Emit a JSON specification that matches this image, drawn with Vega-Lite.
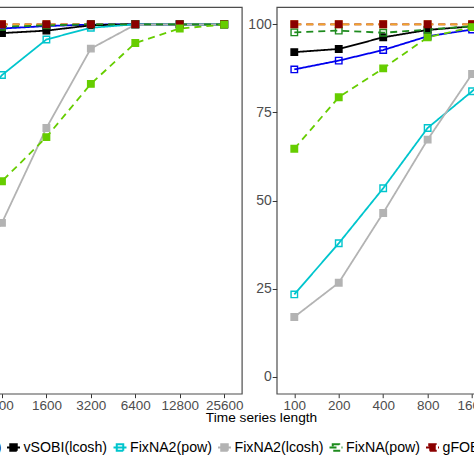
{
  "$schema": "https://vega.github.io/schema/vega-lite/v6.json",
  "padding": {"left": -159, "top": 6, "right": -193, "bottom": 20},
  "autosize": {"type": "pad"},
  "background": "white",
  "bounds": "flush",
  "config": {
    "font": "Liberation Sans",
    "view": {"stroke": "#4D4D4D", "strokeWidth": 1.2},
    "axis": {"grid": false, "domain": false, "tickColor": "#333333", "tickSize": 4, "labelColor": "#4D4D4D", "labelFontSize": 13.5, "labelFont": "Liberation Sans", "titleFont": "Liberation Sans", "titleFontWeight": "normal", "titleColor": "#000000", "titleFontSize": 13.7}
  },
  "data": {"values": [
    {"panel":"A","series":"gJADE","n":100,"value":100},{"panel":"A","series":"gJADE","n":200,"value":100},{"panel":"A","series":"gJADE","n":400,"value":100},{"panel":"A","series":"gJADE","n":800,"value":100},{"panel":"A","series":"gJADE","n":1600,"value":100},{"panel":"A","series":"gJADE","n":3200,"value":100},{"panel":"A","series":"gJADE","n":6400,"value":100},{"panel":"A","series":"gJADE","n":12800,"value":100},{"panel":"A","series":"gJADE","n":25600,"value":100},
    {"panel":"A","series":"vSOBI(pow)","n":100,"value":80},{"panel":"A","series":"vSOBI(pow)","n":200,"value":88},{"panel":"A","series":"vSOBI(pow)","n":400,"value":95},{"panel":"A","series":"vSOBI(pow)","n":800,"value":98.8},{"panel":"A","series":"vSOBI(pow)","n":1600,"value":99.5},{"panel":"A","series":"vSOBI(pow)","n":3200,"value":99.9},{"panel":"A","series":"vSOBI(pow)","n":6400,"value":100},{"panel":"A","series":"vSOBI(pow)","n":12800,"value":100},{"panel":"A","series":"vSOBI(pow)","n":25600,"value":100},
    {"panel":"A","series":"vSOBI(lcosh)","n":100,"value":85},{"panel":"A","series":"vSOBI(lcosh)","n":200,"value":91},{"panel":"A","series":"vSOBI(lcosh)","n":400,"value":95.5},{"panel":"A","series":"vSOBI(lcosh)","n":800,"value":97.5},{"panel":"A","series":"vSOBI(lcosh)","n":1600,"value":98.2},{"panel":"A","series":"vSOBI(lcosh)","n":3200,"value":99.7},{"panel":"A","series":"vSOBI(lcosh)","n":6400,"value":100},{"panel":"A","series":"vSOBI(lcosh)","n":12800,"value":100},{"panel":"A","series":"vSOBI(lcosh)","n":25600,"value":100},
    {"panel":"A","series":"FixNA2(pow)","n":100,"value":30},{"panel":"A","series":"FixNA2(pow)","n":200,"value":50},{"panel":"A","series":"FixNA2(pow)","n":400,"value":70},{"panel":"A","series":"FixNA2(pow)","n":800,"value":85.6},{"panel":"A","series":"FixNA2(pow)","n":1600,"value":95.7},{"panel":"A","series":"FixNA2(pow)","n":3200,"value":99},{"panel":"A","series":"FixNA2(pow)","n":6400,"value":100},{"panel":"A","series":"FixNA2(pow)","n":12800,"value":100},{"panel":"A","series":"FixNA2(pow)","n":25600,"value":100},
    {"panel":"A","series":"FixNA2(lcosh)","n":100,"value":5},{"panel":"A","series":"FixNA2(lcosh)","n":200,"value":12},{"panel":"A","series":"FixNA2(lcosh)","n":400,"value":25},{"panel":"A","series":"FixNA2(lcosh)","n":800,"value":43.7},{"panel":"A","series":"FixNA2(lcosh)","n":1600,"value":70.6},{"panel":"A","series":"FixNA2(lcosh)","n":3200,"value":93.1},{"panel":"A","series":"FixNA2(lcosh)","n":6400,"value":99.9},{"panel":"A","series":"FixNA2(lcosh)","n":12800,"value":100},{"panel":"A","series":"FixNA2(lcosh)","n":25600,"value":100},
    {"panel":"A","series":"FixNA(pow)","n":100,"value":96},{"panel":"A","series":"FixNA(pow)","n":200,"value":97.5},{"panel":"A","series":"FixNA(pow)","n":400,"value":98.5},{"panel":"A","series":"FixNA(pow)","n":800,"value":99.3},{"panel":"A","series":"FixNA(pow)","n":1600,"value":99.7},{"panel":"A","series":"FixNA(pow)","n":3200,"value":100},{"panel":"A","series":"FixNA(pow)","n":6400,"value":100},{"panel":"A","series":"FixNA(pow)","n":12800,"value":100},{"panel":"A","series":"FixNA(pow)","n":25600,"value":100},
    {"panel":"A","series":"gFOBI","n":100,"value":100},{"panel":"A","series":"gFOBI","n":200,"value":100},{"panel":"A","series":"gFOBI","n":400,"value":100},{"panel":"A","series":"gFOBI","n":800,"value":100},{"panel":"A","series":"gFOBI","n":1600,"value":100},{"panel":"A","series":"gFOBI","n":3200,"value":100},{"panel":"A","series":"gFOBI","n":6400,"value":100},{"panel":"A","series":"gFOBI","n":12800,"value":100},{"panel":"A","series":"gFOBI","n":25600,"value":100},
    {"panel":"A","series":"FixNA(lcosh)","n":100,"value":22},{"panel":"A","series":"FixNA(lcosh)","n":200,"value":33},{"panel":"A","series":"FixNA(lcosh)","n":400,"value":44},{"panel":"A","series":"FixNA(lcosh)","n":800,"value":55.5},{"panel":"A","series":"FixNA(lcosh)","n":1600,"value":68},{"panel":"A","series":"FixNA(lcosh)","n":3200,"value":83.1},{"panel":"A","series":"FixNA(lcosh)","n":6400,"value":94.7},{"panel":"A","series":"FixNA(lcosh)","n":12800,"value":98.8},{"panel":"A","series":"FixNA(lcosh)","n":25600,"value":99.9},
    {"panel":"B","series":"gJADE","n":100,"value":100},{"panel":"B","series":"gJADE","n":200,"value":100},{"panel":"B","series":"gJADE","n":400,"value":100},{"panel":"B","series":"gJADE","n":800,"value":100},{"panel":"B","series":"gJADE","n":1600,"value":100},{"panel":"B","series":"gJADE","n":3200,"value":100},{"panel":"B","series":"gJADE","n":6400,"value":100},{"panel":"B","series":"gJADE","n":12800,"value":100},{"panel":"B","series":"gJADE","n":25600,"value":100},
    {"panel":"B","series":"vSOBI(pow)","n":100,"value":87.2},{"panel":"B","series":"vSOBI(pow)","n":200,"value":89.7},{"panel":"B","series":"vSOBI(pow)","n":400,"value":92.7},{"panel":"B","series":"vSOBI(pow)","n":800,"value":96.6},{"panel":"B","series":"vSOBI(pow)","n":1600,"value":98.5},{"panel":"B","series":"vSOBI(pow)","n":3200,"value":99.5},{"panel":"B","series":"vSOBI(pow)","n":6400,"value":99.8},{"panel":"B","series":"vSOBI(pow)","n":12800,"value":100},{"panel":"B","series":"vSOBI(pow)","n":25600,"value":100},
    {"panel":"B","series":"vSOBI(lcosh)","n":100,"value":92.1},{"panel":"B","series":"vSOBI(lcosh)","n":200,"value":93},{"panel":"B","series":"vSOBI(lcosh)","n":400,"value":96.3},{"panel":"B","series":"vSOBI(lcosh)","n":800,"value":98.4},{"panel":"B","series":"vSOBI(lcosh)","n":1600,"value":99.4},{"panel":"B","series":"vSOBI(lcosh)","n":3200,"value":99.8},{"panel":"B","series":"vSOBI(lcosh)","n":6400,"value":100},{"panel":"B","series":"vSOBI(lcosh)","n":12800,"value":100},{"panel":"B","series":"vSOBI(lcosh)","n":25600,"value":100},
    {"panel":"B","series":"FixNA2(pow)","n":100,"value":23.4},{"panel":"B","series":"FixNA2(pow)","n":200,"value":37.9},{"panel":"B","series":"FixNA2(pow)","n":400,"value":53.5},{"panel":"B","series":"FixNA2(pow)","n":800,"value":70.6},{"panel":"B","series":"FixNA2(pow)","n":1600,"value":81},{"panel":"B","series":"FixNA2(pow)","n":3200,"value":92},{"panel":"B","series":"FixNA2(pow)","n":6400,"value":97},{"panel":"B","series":"FixNA2(pow)","n":12800,"value":99},{"panel":"B","series":"FixNA2(pow)","n":25600,"value":100},
    {"panel":"B","series":"FixNA2(lcosh)","n":100,"value":17},{"panel":"B","series":"FixNA2(lcosh)","n":200,"value":26.7},{"panel":"B","series":"FixNA2(lcosh)","n":400,"value":46.5},{"panel":"B","series":"FixNA2(lcosh)","n":800,"value":67.3},{"panel":"B","series":"FixNA2(lcosh)","n":1600,"value":85.9},{"panel":"B","series":"FixNA2(lcosh)","n":3200,"value":96},{"panel":"B","series":"FixNA2(lcosh)","n":6400,"value":99},{"panel":"B","series":"FixNA2(lcosh)","n":12800,"value":100},{"panel":"B","series":"FixNA2(lcosh)","n":25600,"value":100},
    {"panel":"B","series":"FixNA(pow)","n":100,"value":97.7},{"panel":"B","series":"FixNA(pow)","n":200,"value":98.2},{"panel":"B","series":"FixNA(pow)","n":400,"value":97.6},{"panel":"B","series":"FixNA(pow)","n":800,"value":98.5},{"panel":"B","series":"FixNA(pow)","n":1600,"value":99.5},{"panel":"B","series":"FixNA(pow)","n":3200,"value":99.8},{"panel":"B","series":"FixNA(pow)","n":6400,"value":100},{"panel":"B","series":"FixNA(pow)","n":12800,"value":100},{"panel":"B","series":"FixNA(pow)","n":25600,"value":100},
    {"panel":"B","series":"gFOBI","n":100,"value":100},{"panel":"B","series":"gFOBI","n":200,"value":100},{"panel":"B","series":"gFOBI","n":400,"value":100},{"panel":"B","series":"gFOBI","n":800,"value":100},{"panel":"B","series":"gFOBI","n":1600,"value":100},{"panel":"B","series":"gFOBI","n":3200,"value":100},{"panel":"B","series":"gFOBI","n":6400,"value":100},{"panel":"B","series":"gFOBI","n":12800,"value":100},{"panel":"B","series":"gFOBI","n":25600,"value":100},
    {"panel":"B","series":"FixNA(lcosh)","n":100,"value":64.7},{"panel":"B","series":"FixNA(lcosh)","n":200,"value":79.3},{"panel":"B","series":"FixNA(lcosh)","n":400,"value":87.5},{"panel":"B","series":"FixNA(lcosh)","n":800,"value":96.3},{"panel":"B","series":"FixNA(lcosh)","n":1600,"value":99.2},{"panel":"B","series":"FixNA(lcosh)","n":3200,"value":99.8},{"panel":"B","series":"FixNA(lcosh)","n":6400,"value":100},{"panel":"B","series":"FixNA(lcosh)","n":12800,"value":100},{"panel":"B","series":"FixNA(lcosh)","n":25600,"value":100}
  ]},
  "spacing": 34.7,
  "hconcat": [
    {
      "width": 390.8, "height": 386.7,
      "transform": [{"filter": "datum.panel == 'A'"}],
      "encoding": {
        "x": {"field": "n", "type": "quantitative", "scale": {"type": "log", "base": 2, "domain": [76, 33690], "nice": false}, "axis": {"values": [100,200,400,800,1600,3200,6400,12800,25600], "format": "d", "title": null, "labelPadding": 0.5, "labelFlush": false, "labelOverlap": false}},
        "y": {"field": "value", "type": "quantitative", "scale": {"domain": [-4.75, 104.9], "nice": false, "zero": false}, "axis": null}
      },
      "layer": [
        {"transform": [{"filter": "datum.series == 'gFOBI'"}],
         "mark": {"type": "line", "strokeWidth": 1.8},
         "encoding": {
           "stroke": {"field": "series", "type": "nominal", "scale": {"domain": ["gJADE","vSOBI(pow)","vSOBI(lcosh)","FixNA2(pow)","FixNA2(lcosh)","FixNA(pow)","gFOBI","FixNA(lcosh)"], "range": ["#F4A52A","#0000EE","#000000","#00C5CD","#B3B3B3","#1E8B1E","#8B0000","#66CD00"]}, "legend": {"title": null, "orient": "none", "legendX": -10, "legendY": 433, "direction": "horizontal", "columns": 8, "columnPadding": 1.5, "labelOffset": 2.5, "labelFontSize": 14.2, "labelColor": "#000000", "labelFont": "Liberation Sans", "symbolType": "M-1,0L1,0M-0.5,-0.5L0.5,-0.5L0.5,0.5L-0.5,0.5Z", "symbolSize": 169, "symbolStrokeWidth": 2, "symbolDash": [1, 0]}},
           "strokeDash": {"field": "series", "type": "nominal", "scale": {"domain": ["gJADE","vSOBI(pow)","vSOBI(lcosh)","FixNA2(pow)","FixNA2(lcosh)","FixNA(pow)","gFOBI","FixNA(lcosh)"], "range": [[7,5],[1,0],[1,0],[1,0],[1,0],[7,5],[7,5],[7,5]]}, "legend": null}
         }},
        {"transform": [{"filter": "datum.series != 'gFOBI'"}],
         "mark": {"type": "line", "strokeWidth": 1.8},
         "encoding": {
           "stroke": {"field": "series", "type": "nominal"},
           "strokeDash": {"field": "series", "type": "nominal", "legend": null}
         }},
        {"mark": {"type": "point", "shape": "square", "size": 42, "strokeWidth": 1.4, "opacity": 1},
         "encoding": {
           "stroke": {"field": "series", "type": "nominal"},
           "fill": {"field": "series", "type": "nominal", "scale": {"domain": ["gJADE","vSOBI(pow)","vSOBI(lcosh)","FixNA2(pow)","FixNA2(lcosh)","FixNA(pow)","gFOBI","FixNA(lcosh)"], "range": ["#F4A52A","transparent","#000000","transparent","#B3B3B3","transparent","#8B0000","#66CD00"]}, "legend": {"title": null, "orient": "none", "legendX": -10, "legendY": 433, "direction": "horizontal", "columns": 8, "columnPadding": 1.5, "labelOffset": 2.5, "labelFontSize": 14.2, "labelColor": "#000000", "labelFont": "Liberation Sans", "symbolType": "M-1,0L1,0M-0.5,-0.5L0.5,-0.5L0.5,0.5L-0.5,0.5Z", "symbolSize": 169, "symbolStrokeWidth": 2, "symbolDash": [1, 0]}}
         }}
      ]
    },
    {
      "width": 390.8, "height": 386.7,
      "transform": [{"filter": "datum.panel == 'B'"}],
      "encoding": {
        "x": {"field": "n", "type": "quantitative", "scale": {"type": "log", "base": 2, "domain": [76, 33690], "nice": false}, "axis": {"values": [100,200,400,800,1600,3200,6400,12800,25600], "format": "d", "title": "Time series length", "titlePadding": -1.5, "titleX": -15.7, "titleAlign": "center", "titleAnchor": null, "labelPadding": 0.5, "labelFlush": false, "labelOverlap": false}},
        "y": {"field": "value", "type": "quantitative", "scale": {"domain": [-4.75, 104.9], "nice": false, "zero": false}, "axis": {"values": [0,25,50,75,100], "title": null, "tickSize": 4.5, "labelPadding": 1, "labelFontSize": 14}}
      },
      "layer": [
        {"transform": [{"filter": "datum.series == 'gFOBI'"}],
         "mark": {"type": "line", "strokeWidth": 1.8},
         "encoding": {
           "stroke": {"field": "series", "type": "nominal"},
           "strokeDash": {"field": "series", "type": "nominal", "legend": null}
         }},
        {"transform": [{"filter": "datum.series != 'gFOBI'"}],
         "mark": {"type": "line", "strokeWidth": 1.8},
         "encoding": {
           "stroke": {"field": "series", "type": "nominal"},
           "strokeDash": {"field": "series", "type": "nominal", "legend": null}
         }},
        {"mark": {"type": "point", "shape": "square", "size": 42, "strokeWidth": 1.4, "opacity": 1},
         "encoding": {
           "stroke": {"field": "series", "type": "nominal"},
           "fill": {"field": "series", "type": "nominal"}
         }}
      ]
    }
  ]
}
